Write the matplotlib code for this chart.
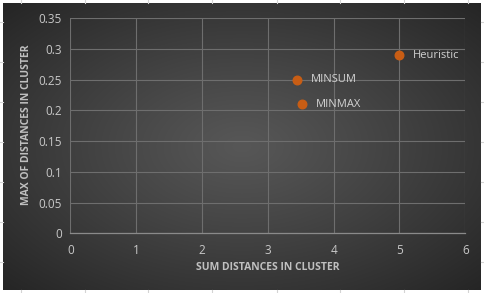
import numpy as np
import matplotlib
matplotlib.use("Agg")
import matplotlib.pyplot as plt
from matplotlib.lines import Line2D

# Cluster quality of the three methods
methods = ["Heuristic", "MINSUM", "MINMAX"]
sum_distances = [5.0, 3.44, 3.52]
max_distances = [0.29, 0.25, 0.21]

x_ticks = [0, 1, 2, 3, 4, 5, 6]
y_ticks = [0, 0.05, 0.1, 0.15, 0.2, 0.25, 0.3, 0.35]
y_tick_labels = ["0", "0.05", "0.1", "0.15", "0.2", "0.25", "0.3", "0.35"]

W, H, DPI = 485, 293, 100
plt.rcParams["font.family"] = ["Open Sans", "DejaVu Sans"]

fig = plt.figure(figsize=(W / DPI, H / DPI), dpi=DPI)
fig.patch.set_facecolor("white")

# Chart area with a radial gradient background
bg_left, bg_right, bg_top, bg_bottom = 3, 481, 3, 290
bg = fig.add_axes([bg_left / W, 1 - bg_bottom / H,
                   (bg_right - bg_left) / W, (bg_bottom - bg_top) / H])
bg.set_axis_off()
gx = np.linspace(-1, 1, 400)
gy = np.linspace(-1, 1, 240)
GX, GY = np.meshgrid(gx, gy)
r = np.clip(np.sqrt((GX * 0.95) ** 2 + (GY * 0.95) ** 2), 0, 1.35) / 1.35
inner, outer = 0x57 / 255, 0x25 / 255
val = inner + (outer - inner) * r ** 1.1
img = np.dstack([val, val, val])
bg.imshow(img, aspect="auto", extent=[0, 1, 0, 1], interpolation="bicubic")
bg.set_xlim(0, 1)
bg.set_ylim(0, 1)

# Light spreadsheet cell lines around the chart
for xp in [21, 85, 148, 212, 277, 340, 404, 468]:
    fig.add_artist(Line2D([xp / W, xp / W], [1, 1 - bg_top / H],
                          color="#d4d4d4", lw=0.8, transform=fig.transFigure))
    fig.add_artist(Line2D([xp / W, xp / W], [0, 1 - bg_bottom / H],
                          color="#d4d4d4", lw=0.8, transform=fig.transFigure))
for yp in [22, 62, 102, 142, 182, 222, 262]:
    fig.add_artist(Line2D([bg_right / W, 1], [1 - yp / H, 1 - yp / H],
                          color="#d4d4d4", lw=0.8, transform=fig.transFigure))
    fig.add_artist(Line2D([0, bg_left / W], [1 - yp / H, 1 - yp / H],
                          color="#d4d4d4", lw=0.8, transform=fig.transFigure))

# Plot area
pl, pr, pt, pb = 70.3, 465.3, 18.3, 233.3
ax = fig.add_axes([pl / W, 1 - pb / H, (pr - pl) / W, (pb - pt) / H])
ax.set_facecolor("none")
ax.set_xlim(0, 6)
ax.set_ylim(0, 0.35)
ax.set_xticks(x_ticks)
ax.set_yticks(y_ticks)
ax.set_yticklabels(y_tick_labels)
ax.grid(True, color="#6e6e6e", lw=0.8)
ax.set_axisbelow(True)
for side in ["top", "right", "left"]:
    ax.spines[side].set_visible(False)
ax.spines["bottom"].set_color("#8a8a8a")
ax.spines["bottom"].set_linewidth(0.9)
ax.tick_params(length=0, colors="#c8c8c8", labelsize=8.5, pad=6)
ax.tick_params(axis="x", pad=8)

ax.scatter(sum_distances, max_distances, s=38, color="#c85d14",
           edgecolors="#c85d14", zorder=3)
for name, xv, yv in zip(methods, sum_distances, max_distances):
    ax.annotate(name, (xv, yv), xytext=(10, 0), textcoords="offset points",
                va="center", ha="left", color="#d2d2d2", fontsize=8)

fig.text(268 / W, 1 - 267 / H, "SUM DISTANCES IN CLUSTER", ha="center",
         va="center", color="#c0c0c0", fontsize=7.5, fontweight="bold")
fig.text(27 / W, 1 - 125 / H, "MAX OF DISTANCES IN CLUSTER", ha="center",
         va="center", rotation=90, color="#c0c0c0", fontsize=7.5,
         fontweight="bold")

fig.savefig("out.png", dpi=DPI, facecolor=fig.get_facecolor())
